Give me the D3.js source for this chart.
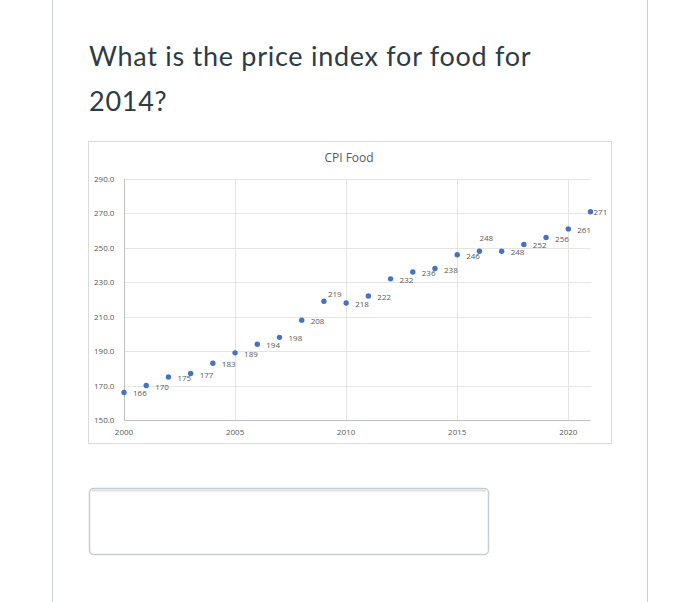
<!DOCTYPE html>
<html>
<head>
<meta charset="utf-8">
<script src="https://cdn.jsdelivr.net/npm/d3@7"></script>
<style>
  body { margin: 0; background: #fff; }
  svg { display: block; }
</style>
</head>
<body>
<div id="page"></div>
<script>
// CPI food, one value per year
const years = [2000, 2001, 2002, 2003, 2004, 2005, 2006, 2007, 2008, 2009, 2010,
               2011, 2012, 2013, 2014, 2015, 2016, 2017, 2018, 2019, 2020, 2021];
const cpiFood = [166, 170, 175, 177, 183, 189, 194, 198, 208, 219, 218,
                 222, 232, 236, 238, 246, 248, 248, 252, 256, 261, 271];
const yTicks = [150, 170, 190, 210, 230, 250, 270, 290];
const xTicks = [2000, 2005, 2010, 2015, 2020];

const W = 700, H = 602;
const svg = d3.select("#page").append("svg")
  .attr("width", W).attr("height", H);

// page frame
svg.append("line").attr("x1", 52.5).attr("x2", 52.5).attr("y1", 0).attr("y2", H)
  .attr("stroke", "#c7cdd1");
svg.append("line").attr("x1", 647.5).attr("x2", 647.5).attr("y1", 0).attr("y2", H)
  .attr("stroke", "#c7cdd1");

// question text
const q = svg.append("text")
  .attr("font-family", "Lato, sans-serif")
  .attr("font-size", 27)
  .attr("letter-spacing", 0.72)
  .attr("fill", "#2d3b45");
q.append("tspan").attr("x", 89).attr("y", 66).text("What is the price index for food for");
q.append("tspan").attr("x", 89).attr("y", 111).text("2014?");

// chart box
svg.append("rect").attr("x", 88.5).attr("y", 141.5).attr("width", 523).attr("height", 302)
  .attr("fill", "#fff").attr("stroke", "#d9d9d9");

const x = d3.scaleLinear().domain([2000, 2021]).range([124, 590.5]);
const y = d3.scaleLinear().domain([150, 290]).range([420, 179]);

const g = svg.append("g");

// gridlines
g.selectAll(".hgrid").data(yTicks).enter().append("line")
  .attr("x1", x(2000)).attr("x2", x(2021))
  .attr("y1", d => Math.round(y(d)) + 0.5).attr("y2", d => Math.round(y(d)) + 0.5)
  .attr("stroke", d => d == 150 ? "#bfbfbf" : "#e4e4e4");
g.selectAll(".vgrid").data(xTicks).enter().append("line")
  .attr("x1", d => Math.round(x(d)) + 0.5).attr("x2", d => Math.round(x(d)) + 0.5)
  .attr("y1", y(290)).attr("y2", y(150))
  .attr("stroke", d => d == 2000 ? "#bfbfbf" : "#e4e4e4");

// tick labels
g.selectAll(".ylab").data(yTicks).enter().append("text")
  .attr("x", 94).attr("y", d => y(d) + 3)
  .attr("font-family", "'Open Sans', sans-serif").attr("font-size", 8)
  .attr("fill", "#595959")
  .text(d => d.toFixed(1));
g.selectAll(".xlab").data(xTicks).enter().append("text")
  .attr("x", d => x(d)).attr("y", 435)
  .attr("text-anchor", "middle")
  .attr("font-family", "'Open Sans', sans-serif").attr("font-size", 8)
  .attr("fill", "#595959")
  .text(d => d);

// chart title
svg.append("text").attr("x", 349).attr("y", 162).attr("text-anchor", "middle")
  .attr("font-family", "'Open Sans', sans-serif").attr("font-size", 12)
  .attr("fill", "#595959").text("CPI Food");

const pts = years.map((yr, i) => ({ year: yr, v: cpiFood[i] }));

g.selectAll("circle").data(pts).enter().append("circle")
  .attr("cx", d => x(d.year)).attr("cy", d => y(d.v))
  .attr("r", 2.7).attr("fill", "#4472c4");

// label nudges where excel moved the label to avoid overlap
const nudge = { 2009: [4, -4], 2016: [0, -10], 2021: [3, 3] };
g.selectAll(".dlab").data(pts).enter().append("text")
  .attr("x", d => x(d.year) + (nudge[d.year] ? nudge[d.year][0] : 9))
  .attr("y", d => y(d.v) + (nudge[d.year] ? nudge[d.year][1] : 4))
  .attr("font-family", "'Open Sans', sans-serif").attr("font-size", 8)
  .attr("fill", "#595959")
  .text(d => d.v);

// answer box
svg.append("rect").attr("x", 89.5).attr("y", 488.5).attr("width", 399).attr("height", 66)
  .attr("rx", 4).attr("fill", "#fff").attr("stroke", "#c7cdd1").attr("stroke-width", 1.5);
svg.append("line").attr("x1", 92).attr("x2", 486).attr("y1", 490.5).attr("y2", 490.5)
  .attr("stroke", "#e0e0e0").attr("stroke-width", 2);
</script>
</body>
</html>
